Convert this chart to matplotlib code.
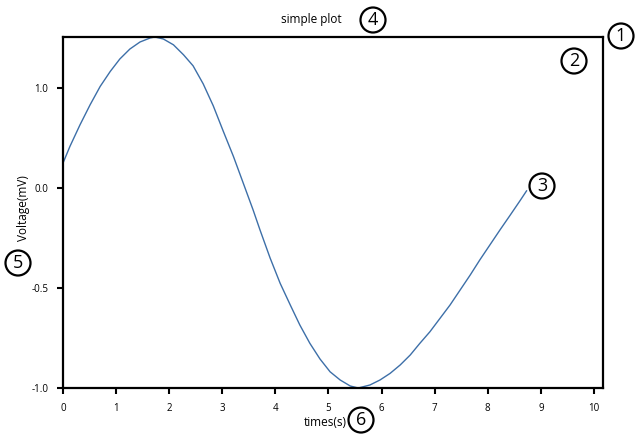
import matplotlib.pyplot as plt
from matplotlib.patches import Circle

plt.rcParams['font.family'] = ['Open Sans', 'DejaVu Sans']

# curve
x = [0.0, 0.13, 0.32, 0.51, 0.70, 0.89, 1.07, 1.26, 1.45, 1.64, 1.73, 1.89,
     2.08, 2.27, 2.45, 2.64, 2.83, 3.02, 3.21, 3.40, 3.58, 3.71, 3.90, 4.09,
     4.28, 4.46, 4.65, 4.84, 5.03, 5.22, 5.41, 5.56, 5.78, 5.97, 6.16, 6.35,
     6.54, 6.72, 6.91, 7.10, 7.29, 7.48, 7.67, 7.85, 8.04, 8.23, 8.42, 8.61, 8.73]
y = [0.124, 0.207, 0.315, 0.415, 0.507, 0.582, 0.644, 0.694, 0.729, 0.749, 0.754,
     0.744, 0.715, 0.665, 0.61, 0.52, 0.41, 0.282, 0.157, 0.02, -0.11, -0.21,
     -0.35, -0.477, -0.585, -0.685, -0.777, -0.855, -0.919, -0.96, -0.99, -1.0,
     -0.985, -0.96, -0.927, -0.885, -0.835, -0.777, -0.719, -0.652, -0.585, -0.51,
     -0.435, -0.36, -0.285, -0.21, -0.137, -0.063, -0.015]

xticks = list(range(0, 11))
ytick_pos = [-1.0, -0.5, 0.0, 0.5]
ytick_labels = ['-1.0', '-0.5', '0.0', '1.0']

# numbered markers: (label, x px, y px from top)
markers = [('1', 621, 36), ('2', 574, 61), ('3', 542, 186),
           ('4', 373, 20), ('5', 18, 263), ('6', 361, 420)]

W, H = 640, 443
fig = plt.figure(figsize=(W / 100, H / 100), dpi=100)
ax = fig.add_axes([63 / W, 1 - 388 / H, 540 / W, 351 / H])

ax.plot(x, y, color='#3d6fa8', lw=1.0)
ax.set_xlim(0, 10.17)
ax.set_ylim(min(y), max(y))
ax.set_xticks(xticks)
ax.set_yticks(ytick_pos)
ax.set_yticklabels(ytick_labels)

for s in ax.spines.values():
    s.set_linewidth(1.6)
ax.tick_params(direction='out', length=4.5, width=1.5, labelsize=7, pad=6)

fig.text(311 / W, 1 - 20 / H, 'simple plot', ha='center', va='center', fontsize=8.5)
fig.text(325 / W, 1 - 422 / H, 'times(s)', ha='center', va='center', fontsize=8.5)
fig.text(24 / W, 1 - 208 / H, 'Voltage(mV)', ha='center', va='center',
         rotation=90, fontsize=8.5)

for lab, px, py in markers:
    c = Circle((px / 100, (H - py) / 100), 0.125, transform=fig.dpi_scale_trans,
               fill=False, ec='black', lw=1.6)
    fig.add_artist(c)
    fig.text(px / W, 1 - py / H, lab, ha='center', va='center', fontsize=13)

fig.savefig('out.png', dpi=100)
